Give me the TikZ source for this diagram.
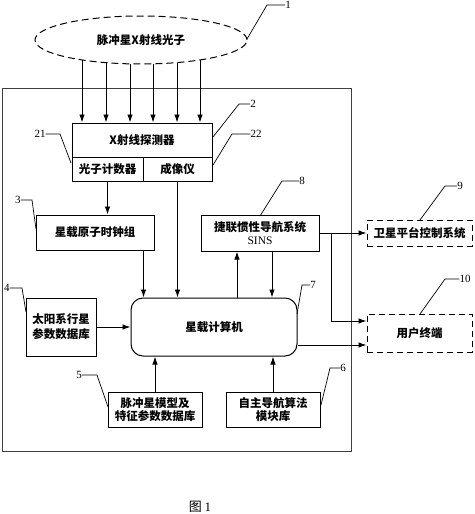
\documentclass[tikz,border=0pt]{standalone}
\usepackage{fontspec}
\setmainfont{Liberation Serif}
\newfontfamily\cjk{Noto Sans CJK SC}
\usetikzlibrary{shapes.geometric,arrows.meta}
\begin{document}
\begin{tikzpicture}[x=1pt,y=-1pt,
  box/.style={draw, line width=1pt, inner sep=0pt, align=center,
    font=\cjk\bfseries\fontsize{11.5}{15}\selectfont},
  dbox/.style={box, dash pattern=on 6pt off 4pt},
  arr/.style={-{Latex[length=8pt,width=5.5pt]}, line width=0.9pt},
  lead/.style={line width=0.7pt},
  num/.style={inner sep=0pt, font=\fontsize{11}{12}\selectfont}]
\useasboundingbox (0,0) rectangle (474,514);
% outer frame
\node[draw=black!75, line width=0.8pt, minimum width=349pt, minimum height=363pt, inner sep=0pt] (frame) at (176.5,269.5) {};
% ellipse
\node[ellipse, draw, line width=1pt, dash pattern=on 7pt off 4pt, minimum width=212pt, minimum height=48pt, inner sep=0pt,
  font=\cjk\bfseries\fontsize{11.5}{14}\selectfont] (ell) at (141,40) {脉冲星X射线光子};
% detector
\node[box, minimum width=140pt, minimum height=34pt] (det) at (142,140) {X射线探测器};
\node[box, minimum width=71pt, minimum height=24pt] (pc) at (107.5,169) {光子计数器};
\node[box, minimum width=69pt, minimum height=24pt] (img) at (177.5,169) {成像仪};
% others
\node[box, minimum width=118pt, minimum height=35pt] (clock) at (95,232.5) {星载原子时钟组};
\node[box, minimum width=118pt, minimum height=36pt] (sins) at (260,233) {捷联惯性导航系统\\[-2pt]{\rmfamily\mdseries SINS}};
\node[dbox, minimum width=105pt, minimum height=26pt] (sat) at (419.5,233) {卫星平台控制系统};
\node[box, rounded corners=12pt, minimum width=166pt, minimum height=58pt] (comp) at (214,327) {星载计算机};
\node[dbox, minimum width=105pt, minimum height=38pt] (user) at (419.5,333) {用户终端};
\node[box, minimum width=70pt, minimum height=58pt] (planet) at (61,327) {太阳系行星\\参数数据库};
\node[box, minimum width=94pt, minimum height=35pt] (pulsar) at (155,409.5) {脉冲星模型及\\[-2pt]特征参数数据库};
\node[box, minimum width=94pt, minimum height=35pt] (algo) at (273,409.5) {自主导航算法\\[-2pt]模块库};
% photon arrows
\coordinate (e1) at (82,59.9);
\coordinate (e2) at (106,62.7);
\coordinate (e3) at (130,63.9);
\coordinate (e4) at (153,63.8);
\coordinate (e5) at (177,62.6);
\coordinate (e6) at (200,59.9);
\foreach \e in {e1,e2,e3,e4,e5,e6} \draw[arr] (\e) -- (\e |- det.north);
% connectors
\draw[arr] (pc.south) -- (pc.south |- clock.north);
\coordinate (c1) at ([xshift=-11pt]clock.south east);
\draw[arr] (c1) -- (c1 |- comp.north);
\draw[arr] (img.south) -- (img.south |- comp.north);
\coordinate (c2) at ([xshift=-23pt]sins.south);
\draw[arr] (c2 |- comp.north) -- (c2);
\coordinate (c3) at ([xshift=12pt]sins.south);
\draw[arr] (c3) -- (c3 |- comp.north);
\draw[arr] (sins.east) -- (sat.west);
\coordinate (c4) at ([xshift=12pt]sins.east);
\coordinate (u1) at ([yshift=12pt]user.west);
\draw[arr] (c4) |- (u1);
\coordinate (c5) at ([yshift=-18pt]comp.east);
\draw[arr] (c5) -- (c5 -| user.west);
\draw[arr] (planet.east) -- (comp.west);
\draw[arr] (pulsar.north) -- (pulsar.north |- comp.south);
\draw[arr] (algo.north) -- (algo.north |- comp.south);
% labels
\node[num] (n1) at (288,5) {1};
\draw[lead] (247,39) -- (267,5) -- (n1.west);
\node[num] (n2) at (253,104) {2};
\draw[lead] (213,137) -- (239,104) -- (n2.west);
\node[num] (n21) at (40,134) {21};
\draw[lead] (n21.east) -- (60,134) -- (71,163);
\node[num] (n22) at (256,134) {22};
\draw[lead] (213,165) -- (232,134) -- (n22.west);
\node[num] (n3) at (18,200) {3};
\draw[lead] (n3.east) -- (32,200) -- (36,229);
\node[num] (n8) at (302,181) {8};
\draw[lead] (260,216) -- (282,181) -- (n8.west);
\node[num] (n9) at (460,186) {9};
\draw[lead] (420,220) -- (445,186) -- (n9.west);
\node[num] (n7) at (313,285) {7};
\draw[lead] (297,314) -- (302,285) -- (n7.west);
\node[num] (n10) at (465,279) {10};
\draw[lead] (420,314) -- (445,279) -- (n10.west);
\node[num] (n4) at (7,288) {4};
\draw[lead] (n4.east) -- (22,288) -- (26,312);
\node[num] (n5) at (79,375) {5};
\draw[lead] (n5.east) -- (97,375) -- (108,407);
\node[num] (n6) at (343,368) {6};
\draw[lead] (321,405) -- (330,368) -- (n6.west);
% caption
\node[font=\cjk\fontsize{13}{14}\selectfont] (cap) at (200,507) {图 {\rmfamily 1}};
\end{tikzpicture}
\end{document}
